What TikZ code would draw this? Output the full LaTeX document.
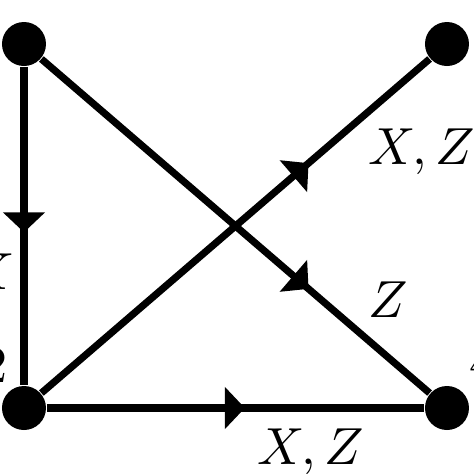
\documentclass[tikz,border=0pt]{standalone}
\usetikzlibrary{arrows.meta,decorations.markings}
\tikzset{
  vert/.style={circle,fill=black,inner sep=0pt,minimum size=9.24pt},
  edge/.style={line width=1.5pt},
  mid/.style={postaction={decorate},decoration={markings,mark=at position #1 with {\arrow{Triangle[width=8.6pt,length=4.2pt]}}}},
  every node/.style={font=\fontsize{10.7}{13}\selectfont}
}
\begin{document}
\begin{tikzpicture}[x=88.83pt,y=76.44pt]
    \useasboundingbox (-0.0567,-0.1813) rectangle (1.0638,1.1209);
    \def\vs{(0,1),(0,0),(1,1),(1,0)}
    \foreach \v [count=\i from 1] in \vs {\node[vert] (v\i) at \v {};}
    \foreach \a/\d [count=\i from 1] in {228/11.2,125/10.8,311/12.2,52/12} {\node (l\i) at ([shift={(\a:\d pt)}]v\i) {$\i$};}
    %edges
    \draw[edge,mid=0.52] (v1) -- node[pos=0.644,xshift=-6.8pt] (e12) {$X$} (v2);
    \draw[edge,mid=0.525] (v2) -- node[pos=0.70,yshift=-9.1pt] (e24) {$X,Z$} (v4);
    \draw[edge,mid=0.69] (v2) -- node[pos=0.98,yshift=-18pt] (e23) {$X,Z$} (v3);
    \draw[edge,mid=0.69] (v1) -- node[pos=0.894,yshift=12.2pt] (e14) {$Z$} (v4);
\end{tikzpicture}
\end{document}
